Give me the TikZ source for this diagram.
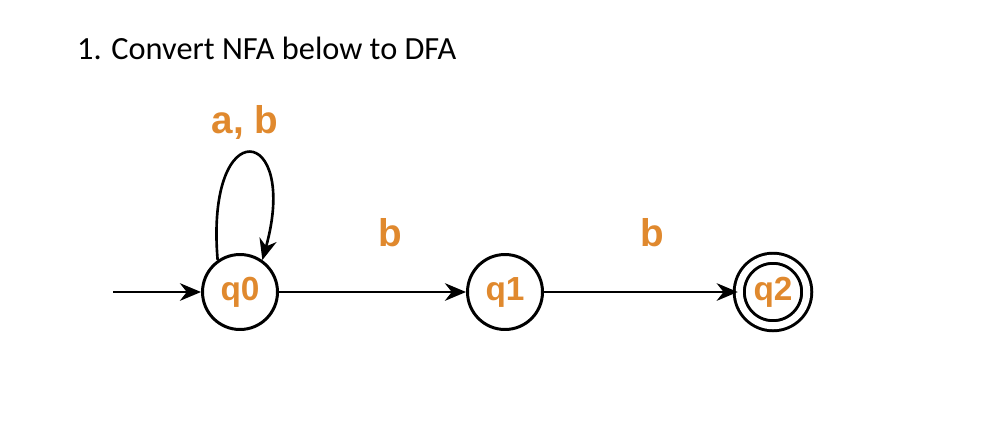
\documentclass[tikz,border=0pt]{standalone}
\usepackage{fontspec}
\setmainfont{Carlito}
\newfontfamily\lab{Liberation Sans}
\usetikzlibrary{arrows.meta}
\definecolor{org}{HTML}{E0892E}
\begin{document}
\begin{tikzpicture}[x=0.02cm,y=-0.02cm,
  st/.style={circle,draw,line width=1.7pt,minimum size=1.5cm,inner sep=0pt,text=org,font=\lab\bfseries\fontsize{19}{19}\selectfont},
  lbl/.style={text=org,font=\lab\bfseries\fontsize{22}{22}\selectfont},
  ar/.style={-{Stealth[length=12pt,width=10pt]},line width=1.5pt}]
\useasboundingbox (0,0) rectangle (1000,420);
\node[anchor=west,font=\fontsize{18.4}{18.4}\selectfont] (title) at (71,48) {1. Convert NFA below to DFA};
\node[st] (q0) at (240,292) {q0};
\node[st] (q1) at (505,292) {q1};
\node[st,double,double distance=4pt,minimum size=1.35cm] (q2) at (773,292) {q2};
\coordinate (s) at (113,292);
\draw[ar] (s) -- (q0);
\draw[ar] (q0) -- (q1);
\draw[ar] (q1) -- (q2);
\draw[ar] (q0.125) .. controls (205,110) and (300,125) .. (q0.55);
\node[lbl] (l0) at (245,122) {a, b};
\node[lbl] (l1) at (390,233) {b};
\node[lbl] (l2) at (652,233) {b};
\end{tikzpicture}
\end{document}
